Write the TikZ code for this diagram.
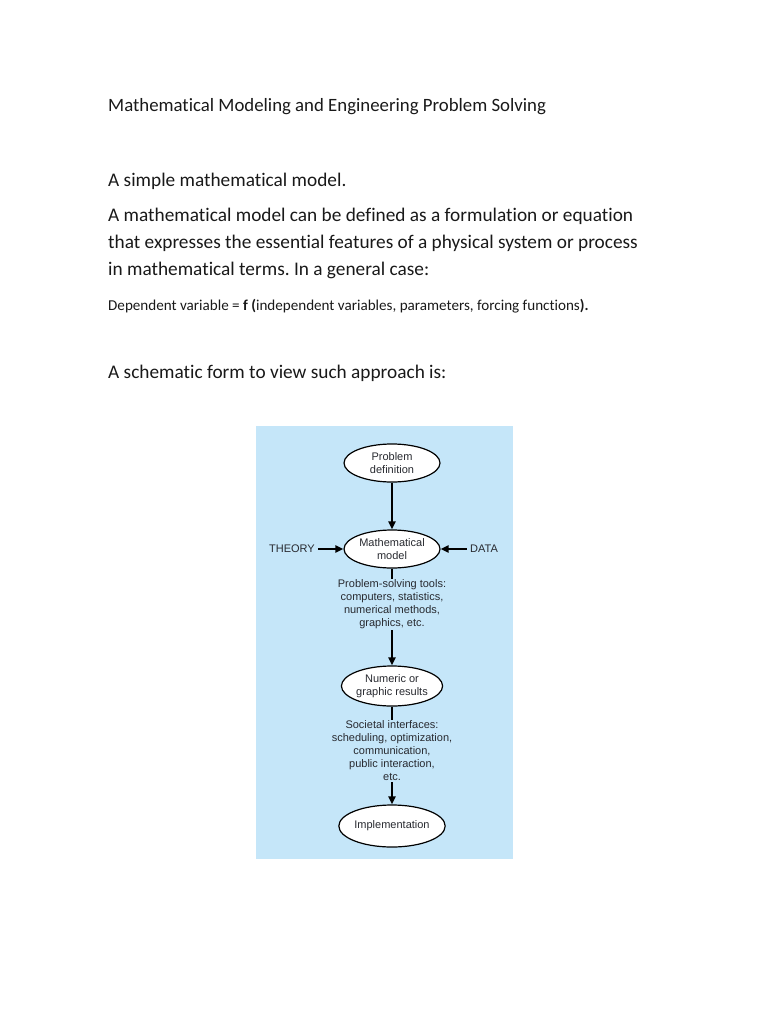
\documentclass[tikz,border=0pt]{standalone}
\usepackage{fontspec}
\setmainfont{Carlito}[Ligatures=NoCommon, Contextuals=NoAlternate, RawFeature={-liga;-dlig;-calt}]
\newfontfamily\diagfont{Liberation Sans}
\usetikzlibrary{positioning,shapes.geometric,arrows.meta}
\definecolor{panelblue}{RGB}{197,230,249}
\definecolor{inkgray}{RGB}{40,42,48}
\frenchspacing

\begin{document}
\begin{tikzpicture}[x=1pt,y=-1pt,
  textline/.style={anchor=base west, inner sep=0pt, text=black!90},
  bodyfont/.style={font=\fontsize{19.3}{23}\selectfont},
  ovalbox/.style={ellipse, draw, fill=white, line width=1.2pt, minimum width=96pt,
    minimum height=38pt, inner sep=0pt, align=center, text=inkgray,
    font=\diagfont\fontsize{11}{12.8}\selectfont},
  note/.style={align=center, inner sep=1pt, text=inkgray,
    font=\diagfont\fontsize{11}{13}\selectfont},
  flow/.style={line width=2.2pt, -{Triangle[length=8pt,width=7pt]}},
  stub/.style={line width=2.2pt}]

\useasboundingbox (0,0) rectangle (768,1024);

% page text
\node (title) [textline, font=\fontsize{18.8}{22}\selectfont] at (108,112)
{Mathematical Modeling and Engineering Problem Solving};
\node (simple) [textline, bodyfont] at (108,187) {A simple mathematical model.};
\node (def1) [textline, bodyfont] at (108,222)
{A mathematical model can be defined as a formulation or equation};
\node (def2) [textline, bodyfont] at (108,248.5)
{that expresses the essential features of a physical system or process};
\node (def3) [textline, bodyfont] at (108,275)
{in mathematical terms. In a general case:};
\node (formula) [textline, font=\fontsize{15.1}{17}\selectfont] at (108,310)
{Dependent variable = \textbf{f (}independent variables, parameters, forcing functions\textbf{).}};
\node (intro) [textline, bodyfont] at (108,378) {A schematic form to view such approach is:};

% blue panel
\fill[panelblue] (256,426) rectangle (513,859);

\node (prob) [ovalbox] at (392,463) {Problem\\definition};
\node (model) [ovalbox] at (392,549) {Mathematical\\model};
\node (theory) [note, inner sep=3pt] at (292,549) {THEORY};
\node (data) [note, inner sep=3pt] at (484,549) {DATA};
\node (tools) [note] at (392,604.5)
{Problem-solving tools:\\computers, statistics,\\numerical methods,\\graphics, etc.};
\node (result) [ovalbox, minimum width=97pt, minimum height=40pt] at (392,686)
{Numeric or\\graphic results};
\node (society) [note] at (392,751)
{Societal interfaces:\\scheduling, optimization,\\communication,\\public interaction,\\etc.};
\node (impl) [ovalbox, minimum width=97pt, minimum height=42pt] at (392,826) {Implementation};

\draw[flow] (prob) -- (model);
\draw[flow] (theory) -- (model);
\draw[flow] (data) -- (model);
\draw[stub] (model) -- (tools);
\draw[flow] (tools) -- (result);
\draw[stub] (result) -- (society);
\draw[flow] (society) -- (impl);

\end{tikzpicture}
\end{document}
